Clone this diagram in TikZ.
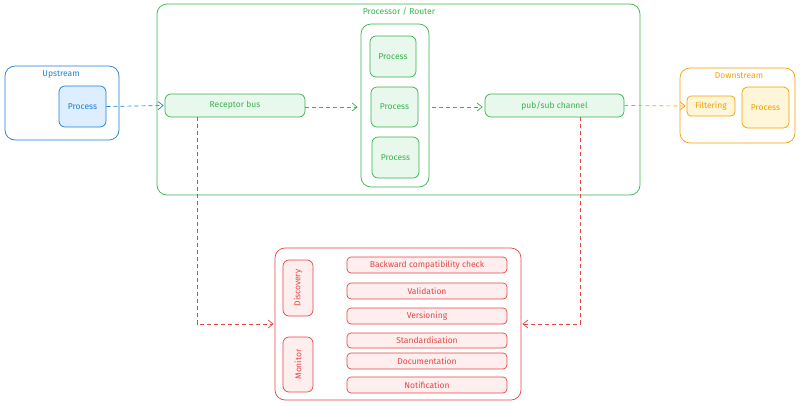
\documentclass[tikz,border=0pt]{standalone}
\usepackage{fontspec}
\setmainfont{Fira Sans}
\usetikzlibrary{arrows.meta}
\definecolor{cblue}{HTML}{1C7ED6}
\definecolor{cgreen}{HTML}{37B24D}
\definecolor{corange}{HTML}{F59F00}
\definecolor{cred}{HTML}{E64545}
\definecolor{fblue}{HTML}{DCEEFF}
\definecolor{fgreen}{HTML}{E9F8EC}
\definecolor{forange}{HTML}{FFF6D9}
\definecolor{fred}{HTML}{FFEEEE}
\tikzset{
  box/.style={draw, line width=0.7pt, rounded corners=#1, inner sep=0pt},
  box/.default=6pt,
  lbl/.style={font=\fontsize{8.5}{10}\selectfont, inner sep=0pt},
  darr/.style={draw, line width=0.7pt, dash pattern=on 4pt off 3pt, -{Straight Barb[length=5pt,width=8pt]}},
}
\begin{document}
\begin{tikzpicture}[x=1pt,y=-1pt]
\useasboundingbox (0,0) rectangle (800,405);
% Upstream
\node[box=10pt, draw=cblue, minimum width=114pt, minimum height=74pt] (up) at (62,103) {};
\node[lbl, text=cblue] (uplbl) at (61,74) {Upstream};
\node[box, draw=cblue, fill=fblue, text=cblue, lbl, minimum width=47pt, minimum height=41pt] (uproc) at (82.5,106.5) {Process};
% Processor / Router
\node[box=10pt, draw=cgreen, minimum width=483pt, minimum height=191pt] (pr) at (398.5,99.5) {};
\node[lbl, text=cgreen] (prlbl) at (399,12) {Processor / Router};
\node[box, draw=cgreen, fill=fgreen, text=cgreen, lbl, minimum width=140pt, minimum height=23pt] (rb) at (235,105.5) {Receptor bus};
\node[box=10pt, draw=cgreen, minimum width=68pt, minimum height=163pt] (mid) at (395,105.5) {};
\node[box, draw=cgreen, fill=fgreen, text=cgreen, lbl, minimum width=46pt, minimum height=41pt] (p1) at (393,56.5) {Process};
\node[box, draw=cgreen, fill=fgreen, text=cgreen, lbl, minimum width=47pt, minimum height=40pt] (p2) at (394.5,107) {Process};
\node[box, draw=cgreen, fill=fgreen, text=cgreen, lbl, minimum width=47pt, minimum height=41pt] (p3) at (395.5,157.5) {Process};
\node[box, draw=cgreen, fill=fgreen, text=cgreen, lbl, minimum width=139pt, minimum height=23pt] (ps) at (554.5,105.5) {pub/sub channel};
% Downstream
\node[box=10pt, draw=corange, minimum width=115pt, minimum height=75pt] (down) at (737.5,105.5) {};
\node[lbl, text=corange] (downlbl) at (739,76) {Downstream};
\node[box=4pt, draw=corange, fill=forange, text=corange, lbl, minimum width=48pt, minimum height=20pt] (filt) at (711,106) {Filtering};
\node[box, draw=corange, fill=forange, text=corange, lbl, minimum width=47pt, minimum height=41pt] (dproc) at (765.5,107.5) {Process};
% Bottom
\node[box=10pt, draw=cred, minimum width=246pt, minimum height=152pt] (bot) at (398,324) {};
\node[box, draw=cred, fill=fred, minimum width=30pt, minimum height=56pt] (disc) at (298,288) {};
\node[lbl, text=cred, rotate=90] (disclbl) at (disc) {Discovery};
\node[box, draw=cred, fill=fred, minimum width=30pt, minimum height=55pt] (mon) at (298,364.5) {};
\node[lbl, text=cred, rotate=90] (monlbl) at (mon) {Monitor};
\node[box=4pt, draw=cred, fill=fred, text=cred, lbl, minimum width=160pt, minimum height=16pt] (r1) at (427,265) {Backward compatibility check};
\node[box=4pt, draw=cred, fill=fred, text=cred, lbl, minimum width=160pt, minimum height=16pt] (r2) at (427,291) {Validation};
\node[box=4pt, draw=cred, fill=fred, text=cred, lbl, minimum width=160pt, minimum height=16pt] (r3) at (427,316) {Versioning};
\node[box=4pt, draw=cred, fill=fred, text=cred, lbl, minimum width=160pt, minimum height=15pt] (r4) at (427,340.5) {Standardisation};
\node[box=4pt, draw=cred, fill=fred, text=cred, lbl, minimum width=160pt, minimum height=16pt] (r5) at (427,361) {Documentation};
\node[box=4pt, draw=cred, fill=fred, text=cred, lbl, minimum width=160pt, minimum height=16pt] (r6) at (427,385) {Notification};
% Connectors
\draw[darr, cblue] (uproc.east) -- ([xshift=-1pt]rb.west);
\draw[darr, cgreen] ([yshift=-1.5pt]rb.east) -- ([xshift=-3pt,yshift=-1.5pt]mid.west);
\draw[darr, cgreen] ([xshift=3pt,yshift=-1.5pt]mid.east) -- ([xshift=-2pt,yshift=-1.5pt]ps.west);
\draw[darr, corange] (ps.east) -- ([xshift=-1pt]filt.west);
\draw[darr, cred] ([xshift=-38pt]rb.south) |- ([xshift=-1pt]bot.west);
\draw[darr, cred] ([xshift=25.5pt]ps.south) |- ([xshift=1pt]bot.east);
\end{tikzpicture}
\end{document}
